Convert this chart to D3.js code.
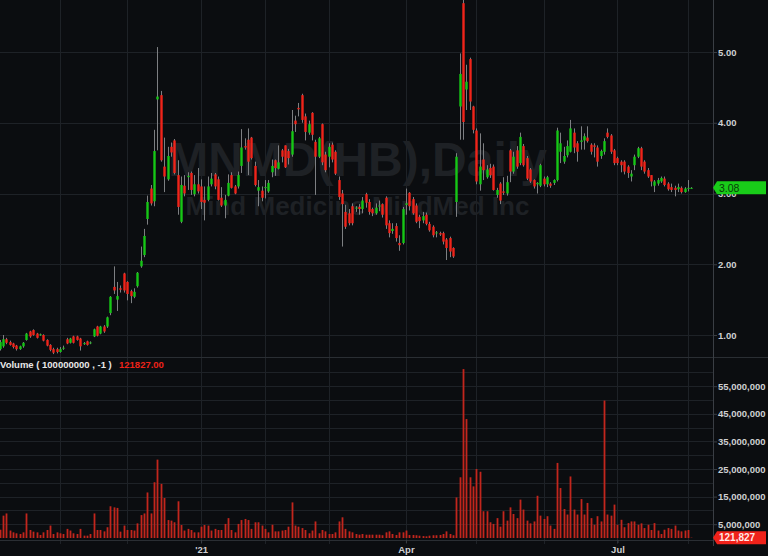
<!DOCTYPE html>
<html>
<head>
<meta charset="utf-8">
<script src="https://cdn.jsdelivr.net/npm/d3@7"></script>
<style>
  html, body { margin: 0; padding: 0; background: #0b0d10; }
  svg { display: block; }
  text { font-family: "Liberation Sans", Arial, sans-serif; }
</style>
</head>
<body>
<svg id="chart" width="768" height="556"></svg>
<script>
// daily candles, one per trading day (7 Oct 2020 .. 3 Aug 2021): [open, high, low, close]
const candles = [
  [0.80,0.93,0.78,0.90],[0.84,1.00,0.82,0.94],[0.94,0.96,0.87,0.89],[0.90,0.92,0.85,0.86],[0.88,0.89,0.81,0.83],
  [0.85,0.86,0.78,0.80],[0.80,0.85,0.79,0.84],[0.84,0.90,0.82,0.89],[0.93,1.03,0.92,1.02],[1.05,1.06,0.96,0.98],
  [1.07,1.08,0.99,1.00],[1.02,1.03,0.95,0.96],[1.00,1.02,0.99,1.01],[1.00,1.01,0.91,0.92],[0.93,0.94,0.84,0.85],
  [0.86,0.87,0.77,0.79],[0.80,0.82,0.73,0.75],[0.80,0.82,0.74,0.76],[0.76,0.83,0.75,0.80],[0.81,0.85,0.79,0.82],
  [0.94,0.96,0.87,0.88],[0.89,0.96,0.88,0.95],[0.98,0.99,0.88,0.89],[0.98,0.99,0.92,0.93],[0.95,0.96,0.78,0.84],
  [0.88,0.90,0.86,0.885],[0.91,0.92,0.85,0.86],[0.89,0.91,0.87,0.895],[0.98,1.09,0.97,1.08],[1.12,1.13,0.98,0.99],
  [1.02,1.13,1.01,1.12],[1.12,1.14,1.03,1.05],[1.12,1.26,1.10,1.25],[1.31,1.55,1.28,1.54],[1.68,1.97,1.58,1.63],
  [1.50,1.75,1.34,1.55],[1.66,1.70,1.60,1.64],[1.87,1.88,1.60,1.63],[1.75,1.76,1.49,1.58],[1.62,1.64,1.45,1.55],
  [1.54,1.66,1.52,1.61],[1.69,1.89,1.67,1.88],[1.97,2.25,1.95,2.05],[2.13,2.50,2.10,2.40],[2.64,2.97,2.56,2.88],
  [3.07,3.12,2.83,2.86],[2.89,3.90,2.82,3.60],[4.33,5.07,3.61,4.37],[4.39,4.45,3.45,3.47],[3.38,3.79,3.02,3.24],
  [3.20,3.66,3.18,3.53],[3.66,3.72,3.52,3.58],[3.75,3.77,3.27,3.29],[3.26,3.47,2.70,2.81],[2.60,3.24,2.58,3.12],
  [3.11,3.26,2.96,3.00],[3.23,3.30,3.05,3.25],[3.29,3.31,2.98,3.05],[2.99,3.26,2.96,3.13],[3.13,3.36,3.00,3.03],
  [3.10,3.20,2.78,2.88],[2.91,3.10,2.62,2.87],[2.91,3.24,2.89,3.10],[3.13,3.29,3.10,3.21],[3.27,3.29,3.06,3.10],
  [3.20,3.24,2.90,2.91],[2.94,3.09,2.81,2.83],[2.83,2.98,2.65,2.91],[2.97,3.27,2.96,3.15],[3.26,3.30,3.07,3.08],
  [3.10,3.12,2.99,3.00],[3.10,3.31,3.07,3.26],[3.39,3.91,3.29,3.65],[3.67,3.78,3.62,3.65],[3.76,3.92,3.26,3.45],
  [3.79,3.80,3.48,3.50],[3.39,3.45,3.10,3.12],[3.04,3.19,2.82,3.09],[3.04,3.10,2.89,2.94],[3.08,3.19,2.93,3.09],
  [3.03,3.19,3.01,3.15],[3.30,3.48,3.23,3.39],[3.47,3.48,3.25,3.36],[3.35,3.68,3.34,3.44],[3.61,3.63,3.44,3.52],
  [3.68,3.68,3.36,3.37],[3.60,3.63,3.41,3.50],[3.55,4.18,3.52,3.88],[4.03,4.10,3.87,3.98],[4.21,4.28,4.09,4.19],
  [4.39,4.41,4.00,4.04],[4.09,4.13,3.75,3.87],[3.86,4.03,3.83,3.98],[4.14,4.15,3.75,3.83],[3.73,3.76,2.98,3.52],
  [3.52,3.80,3.50,3.78],[3.98,3.99,3.40,3.44],[3.55,3.59,3.30,3.33],[3.52,3.71,3.37,3.66],[3.69,3.72,3.44,3.48],
  [3.59,3.61,3.26,3.28],[3.19,3.24,2.91,2.95],[3.00,3.05,2.25,2.85],[2.74,2.84,2.50,2.53],[2.72,2.78,2.55,2.58],
  [2.82,2.86,2.55,2.58],[2.79,2.82,2.74,2.80],[2.81,2.85,2.70,2.78],[2.78,2.95,2.72,2.90],[2.99,3.01,2.80,2.87],
  [2.88,2.92,2.70,2.74],[2.78,2.80,2.68,2.72],[2.72,2.86,2.70,2.80],[2.83,2.90,2.75,2.83],[2.85,2.86,2.66,2.70],
  [2.94,2.96,2.50,2.55],[2.58,2.62,2.38,2.44],[2.47,2.58,2.43,2.50],[2.54,2.58,2.32,2.37],[2.30,2.41,2.19,2.27],
  [2.30,2.81,2.28,2.78],[2.84,3.07,2.70,2.86],[3.01,3.02,2.76,2.82],[2.92,2.95,2.70,2.72],[2.83,2.86,2.58,2.60],
  [2.67,2.70,2.51,2.61],[2.62,2.74,2.58,2.68],[2.70,2.73,2.55,2.57],[2.57,2.60,2.46,2.48],[2.53,2.55,2.38,2.41],
  [2.44,2.47,2.38,2.45],[2.44,2.46,2.40,2.42],[2.44,2.46,2.28,2.32],[2.35,2.37,2.06,2.23],[2.37,2.39,2.10,2.18],
  [2.23,2.24,2.09,2.11],[2.88,3.57,2.67,3.52],[4.23,4.98,3.76,4.69],[5.69,5.75,3.76,4.01],[4.47,4.82,4.18,4.58],
  [4.90,4.92,4.18,4.30],[4.23,4.24,3.85,3.90],[3.89,3.92,3.13,3.17],[3.13,3.85,3.04,3.38],[3.48,3.71,3.19,3.33],
  [3.23,3.40,3.21,3.34],[3.36,3.42,3.22,3.26],[3.38,3.41,3.04,3.05],[2.98,3.08,2.94,3.05],[3.14,3.16,2.85,2.90],
  [3.03,3.23,2.98,3.01],[3.00,3.25,2.97,3.16],[3.61,3.63,3.16,3.31],[3.31,3.59,3.28,3.52],[3.61,3.67,3.35,3.38],
  [3.43,3.86,3.40,3.80],[3.67,3.70,3.38,3.40],[3.50,3.53,3.19,3.21],[3.34,3.36,3.15,3.17],[3.19,3.20,3.07,3.10],
  [3.13,3.16,3.00,3.15],[3.11,3.42,3.09,3.40],[3.21,3.24,3.10,3.13],[3.13,3.25,3.09,3.23],[3.14,3.16,3.08,3.11],
  [3.15,3.20,3.12,3.19],[3.19,3.93,3.17,3.89],[3.59,3.86,3.43,3.71],[3.45,3.66,3.42,3.53],[3.54,3.75,3.51,3.67],
  [3.59,4.04,3.58,3.92],[3.86,3.92,3.57,3.65],[3.71,3.74,3.45,3.59],[3.73,3.95,3.62,3.75],[3.75,3.85,3.62,3.81],
  [3.79,3.95,3.72,3.74],[3.69,3.71,3.55,3.59],[3.68,3.71,3.51,3.66],[3.65,3.68,3.38,3.45],[3.53,3.62,3.49,3.60],
  [3.59,3.78,3.55,3.74],[3.86,3.92,3.78,3.80],[3.82,3.84,3.56,3.59],[3.61,3.63,3.40,3.43],[3.50,3.52,3.40,3.43],
  [3.45,3.47,3.30,3.40],[3.45,3.47,3.27,3.31],[3.38,3.40,3.22,3.29],[3.24,3.33,3.17,3.28],[3.40,3.55,3.33,3.52],
  [3.52,3.66,3.50,3.64],[3.64,3.66,3.33,3.38],[3.45,3.47,3.28,3.31],[3.33,3.36,3.22,3.24],[3.26,3.26,3.10,3.17],
  [3.11,3.19,3.02,3.17],[3.14,3.22,3.11,3.19],[3.17,3.24,3.15,3.22],[3.21,3.24,3.10,3.12],[3.14,3.16,3.04,3.06],
  [3.09,3.14,3.02,3.05],[3.08,3.11,2.96,3.05],[3.06,3.14,3.02,3.09],[3.08,3.10,3.00,3.02],[3.02,3.09,3.01,3.07],
  [3.07,3.19,3.03,3.08],[3.08,3.09,3.07,3.08]
];

// daily volume, millions of shares
const volumes = [
  3.0, 8.1, 8.9, 2.7, 2.05, 1.7, 1.45, 2.05, 8.9, 2.9,
  2.3, 2.05, 1.1, 2.05, 2.9, 4.5, 1.45, 2.05, 1.7, 1.45,
  3.3, 2.7, 1.7, 1.45, 3.3, 0.85, 0.85, 1.45, 8.9, 2.9,
  2.9, 2.4, 3.9, 11.5, 11.1, 10.9, 2.3, 4.5, 2.9, 2.9,
  2.7, 5.3, 8.3, 8.9, 16.5, 8.9, 20.2, 28.4, 19.6, 14.5,
  6.5, 6.3, 5.7, 13.3, 4.7, 2.7, 3.3, 2.9, 2.05, 2.05,
  4.1, 4.7, 4.5, 2.7, 3.3, 2.9, 2.9, 5.1, 7.2, 2.9,
  2.05, 5.1, 6.5, 6.9, 6.5, 3.3, 5.7, 5.7, 4.5, 3.3,
  2.05, 4.8, 2.4, 2.4, 2.7, 2.9, 4.1, 12.9, 4.5, 4.1,
  3.6, 2.9, 1.7, 2.7, 6.0, 1.7, 2.9, 2.4, 1.45, 1.45,
  2.05, 6.0, 7.5, 3.3, 2.4, 2.05, 1.45, 1.2, 1.45, 1.2,
  1.2, 1.2, 1.2, 1.2, 1.0, 2.05, 2.4, 1.45, 1.1, 2.05,
  2.05, 2.7, 1.1, 1.1, 1.0, 0.85, 0.7, 0.6, 0.85, 1.0,
  1.0, 1.1, 1.45, 2.4, 1.45, 1.0, 14.7, 22.0, 61.2, 43.1,
  22.0, 18.7, 25.0, 24.0, 9.7, 9.7, 5.7, 5.1, 7.2, 4.1,
  9.7, 6.3, 11.1, 8.7, 7.2, 13.9, 10.3, 6.3, 5.3, 6.0,
  15.3, 8.1, 6.9, 7.9, 4.5, 3.3, 27.2, 18.1, 10.5, 8.5,
  22.3, 10.3, 8.5, 14.1, 8.5, 12.7, 7.2, 4.8, 7.9, 6.0,
  49.8, 8.5, 8.1, 12.1, 4.8, 6.6, 3.9, 5.4, 6.0, 6.0,
  4.8, 5.3, 3.6, 4.8, 2.9, 5.4, 2.7, 1.45, 3.0, 3.6,
  3.3, 4.5, 2.7, 2.4, 2.7, 2.9, 0.121827
];

// index of the first trading day of each month (Nov .. Aug)
const monthStarts = [18, 38, 60, 79, 98, 121, 142, 162, 184, 205];
const tickIdx = [60, 121, 184];
const tickLabels = ["'21", 'Apr', 'Jul'];
const priceTicks = [1, 2, 3, 4, 5];
const volumeTicks = [5, 15, 25, 35, 45, 55];
const volumeGrid = d3.range(5, 61, 5);
const lastPrice = 3.08;
const lastVolume = 121827;

const W = 768, H = 556, plotRight = 713;
const UP = '#16c716', DOWN = '#f0241a', WICK = '#7d7f82';
const GRID = '#1e2227', AXIS = '#3a3e44', LABEL = '#cfd0d2';

const svg = d3.select('#chart');
svg.append('rect').attr('width', W).attr('height', H).attr('fill', '#0b0d10');

const x = d3.scaleLinear().domain([0, 205]).range([-0.4, 688]);
const yP = d3.scaleLinear().domain([1, 5]).range([335, 52]);
const yV = d3.scaleLinear().domain([0, 60]).range([538, 372.4]);

// grid
const grid = svg.append('g').attr('stroke', GRID).attr('shape-rendering', 'crispEdges');
grid.selectAll('.vg').data(monthStarts).join('line')
    .attr('x1', d => Math.round(x(d)) + 0.5).attr('x2', d => Math.round(x(d)) + 0.5)
    .attr('y1', 0).attr('y2', 544);
grid.selectAll('.pg').data(priceTicks).join('line')
    .attr('x1', 0).attr('x2', plotRight)
    .attr('y1', d => Math.round(yP(d)) + 0.5).attr('y2', d => Math.round(yP(d)) + 0.5);
grid.selectAll('.vlg').data(volumeGrid).join('line')
    .attr('x1', 0).attr('x2', plotRight)
    .attr('y1', d => Math.round(yV(d)) + 0.5).attr('y2', d => Math.round(yV(d)) + 0.5);

// watermark
const wm = svg.append('g').attr('fill', '#1e2125').attr('text-anchor', 'middle').attr('font-weight', 'bold');
wm.append('text').attr('x', plotRight / 2 + 1).attr('y', 176).attr('font-size', 48).text('MNMD(HB),Daily');
wm.append('text').attr('x', plotRight / 2 + 1).attr('y', 215).attr('font-size', 26).text('Mind Medicine MindMed Inc');

// pane borders
const frame = svg.append('g').attr('shape-rendering', 'crispEdges');
frame.append('line').attr('x1', 0).attr('x2', W).attr('y1', 357.5).attr('y2', 357.5).attr('stroke', '#2a2e33');
frame.append('line').attr('x1', 0).attr('x2', plotRight).attr('y1', 540.5).attr('y2', 540.5).attr('stroke', '#2a2e33');
frame.append('line').attr('x1', plotRight + 0.5).attr('x2', plotRight + 0.5).attr('y1', 0).attr('y2', 546).attr('stroke', AXIS);

// candles
const gC = svg.append('g');
gC.selectAll('line').data(candles).join('line')
    .attr('x1', (d, i) => Math.round(x(i)) + 0.5).attr('x2', (d, i) => Math.round(x(i)) + 0.5)
    .attr('y1', d => yP(d[1])).attr('y2', d => yP(d[2]))
    .attr('stroke', WICK).attr('stroke-width', 1);
gC.selectAll('rect').data(candles).join('rect')
    .attr('x', (d, i) => Math.round(x(i)) - 0.7).attr('width', 2.4)
    .attr('y', d => yP(Math.max(d[0], d[3])))
    .attr('height', d => Math.max(1, Math.abs(yP(d[0]) - yP(d[3]))))
    .attr('fill', d => d[3] >= d[0] ? UP : DOWN);

// volume bars
svg.append('g').selectAll('rect').data(volumes).join('rect')
    .attr('x', (d, i) => Math.round(x(i)) - 0.4).attr('width', 1.8)
    .attr('y', d => yV(d)).attr('height', d => yV(0) - yV(d))
    .attr('fill', '#c2261d');

// axes
function styleAxis(g) {
    g.select('.domain').remove();
    g.selectAll('.tick line').attr('stroke', AXIS);
    g.selectAll('.tick text').attr('fill', LABEL).attr('font-size', 9.5).attr('font-weight', 'bold')
        .attr('font-family', '"Liberation Sans", Arial, sans-serif');
}
svg.append('g').attr('transform', `translate(${plotRight},0)`)
    .call(d3.axisRight(yP).tickValues(priceTicks).tickFormat(d3.format('.2f')).tickSize(4).tickPadding(1))
    .call(styleAxis);
svg.append('g').attr('transform', `translate(${plotRight},0)`)
    .call(d3.axisRight(yV).tickValues(volumeTicks).tickFormat(d => d3.format(',')(d * 1e6)).tickSize(4).tickPadding(1))
    .call(styleAxis);
svg.append('g').attr('transform', 'translate(0,540)')
    .call(d3.axisBottom(x).tickValues(tickIdx).tickFormat((d, i) => tickLabels[i]).tickSize(3).tickPadding(3))
    .call(styleAxis);

// last price tag (covers the 3.00 label, as in the original)
const lp = svg.append('g').attr('transform', `translate(${plotRight},${yP(lastPrice)})`);
lp.append('path').attr('d', 'M0,0 L4,-6.5 L53,-6.5 L53,6.5 L4,6.5 Z').attr('fill', '#19cc19');
lp.append('text').attr('x', 6).attr('dy', '0.35em').attr('font-size', 10.5).attr('fill', '#0a3a0a').text(lastPrice.toFixed(2));

// last volume tag
const lv = svg.append('g').attr('transform', `translate(${plotRight},${yV(lastVolume / 1e6)})`);
lv.append('path').attr('d', 'M0,0 L4,-6.5 L53,-6.5 L53,6.5 L4,6.5 Z').attr('fill', '#f0221a');
lv.append('text').attr('x', 6).attr('dy', '0.35em').attr('font-size', 10).attr('font-weight', 'bold')
    .attr('fill', '#ffe8e8').text(d3.format(',')(lastVolume));

// volume pane header
const hdr = svg.append('text').attr('x', 0).attr('y', 367.5).attr('font-size', 9.5).attr('font-weight', 'bold');
hdr.append('tspan').attr('fill', '#e8e8e8').text('Volume ( 100000000 , -1 )');
hdr.append('tspan').attr('x', 119).attr('fill', '#ee2218').text((lastVolume).toFixed(2));
</script>
</body>
</html>
